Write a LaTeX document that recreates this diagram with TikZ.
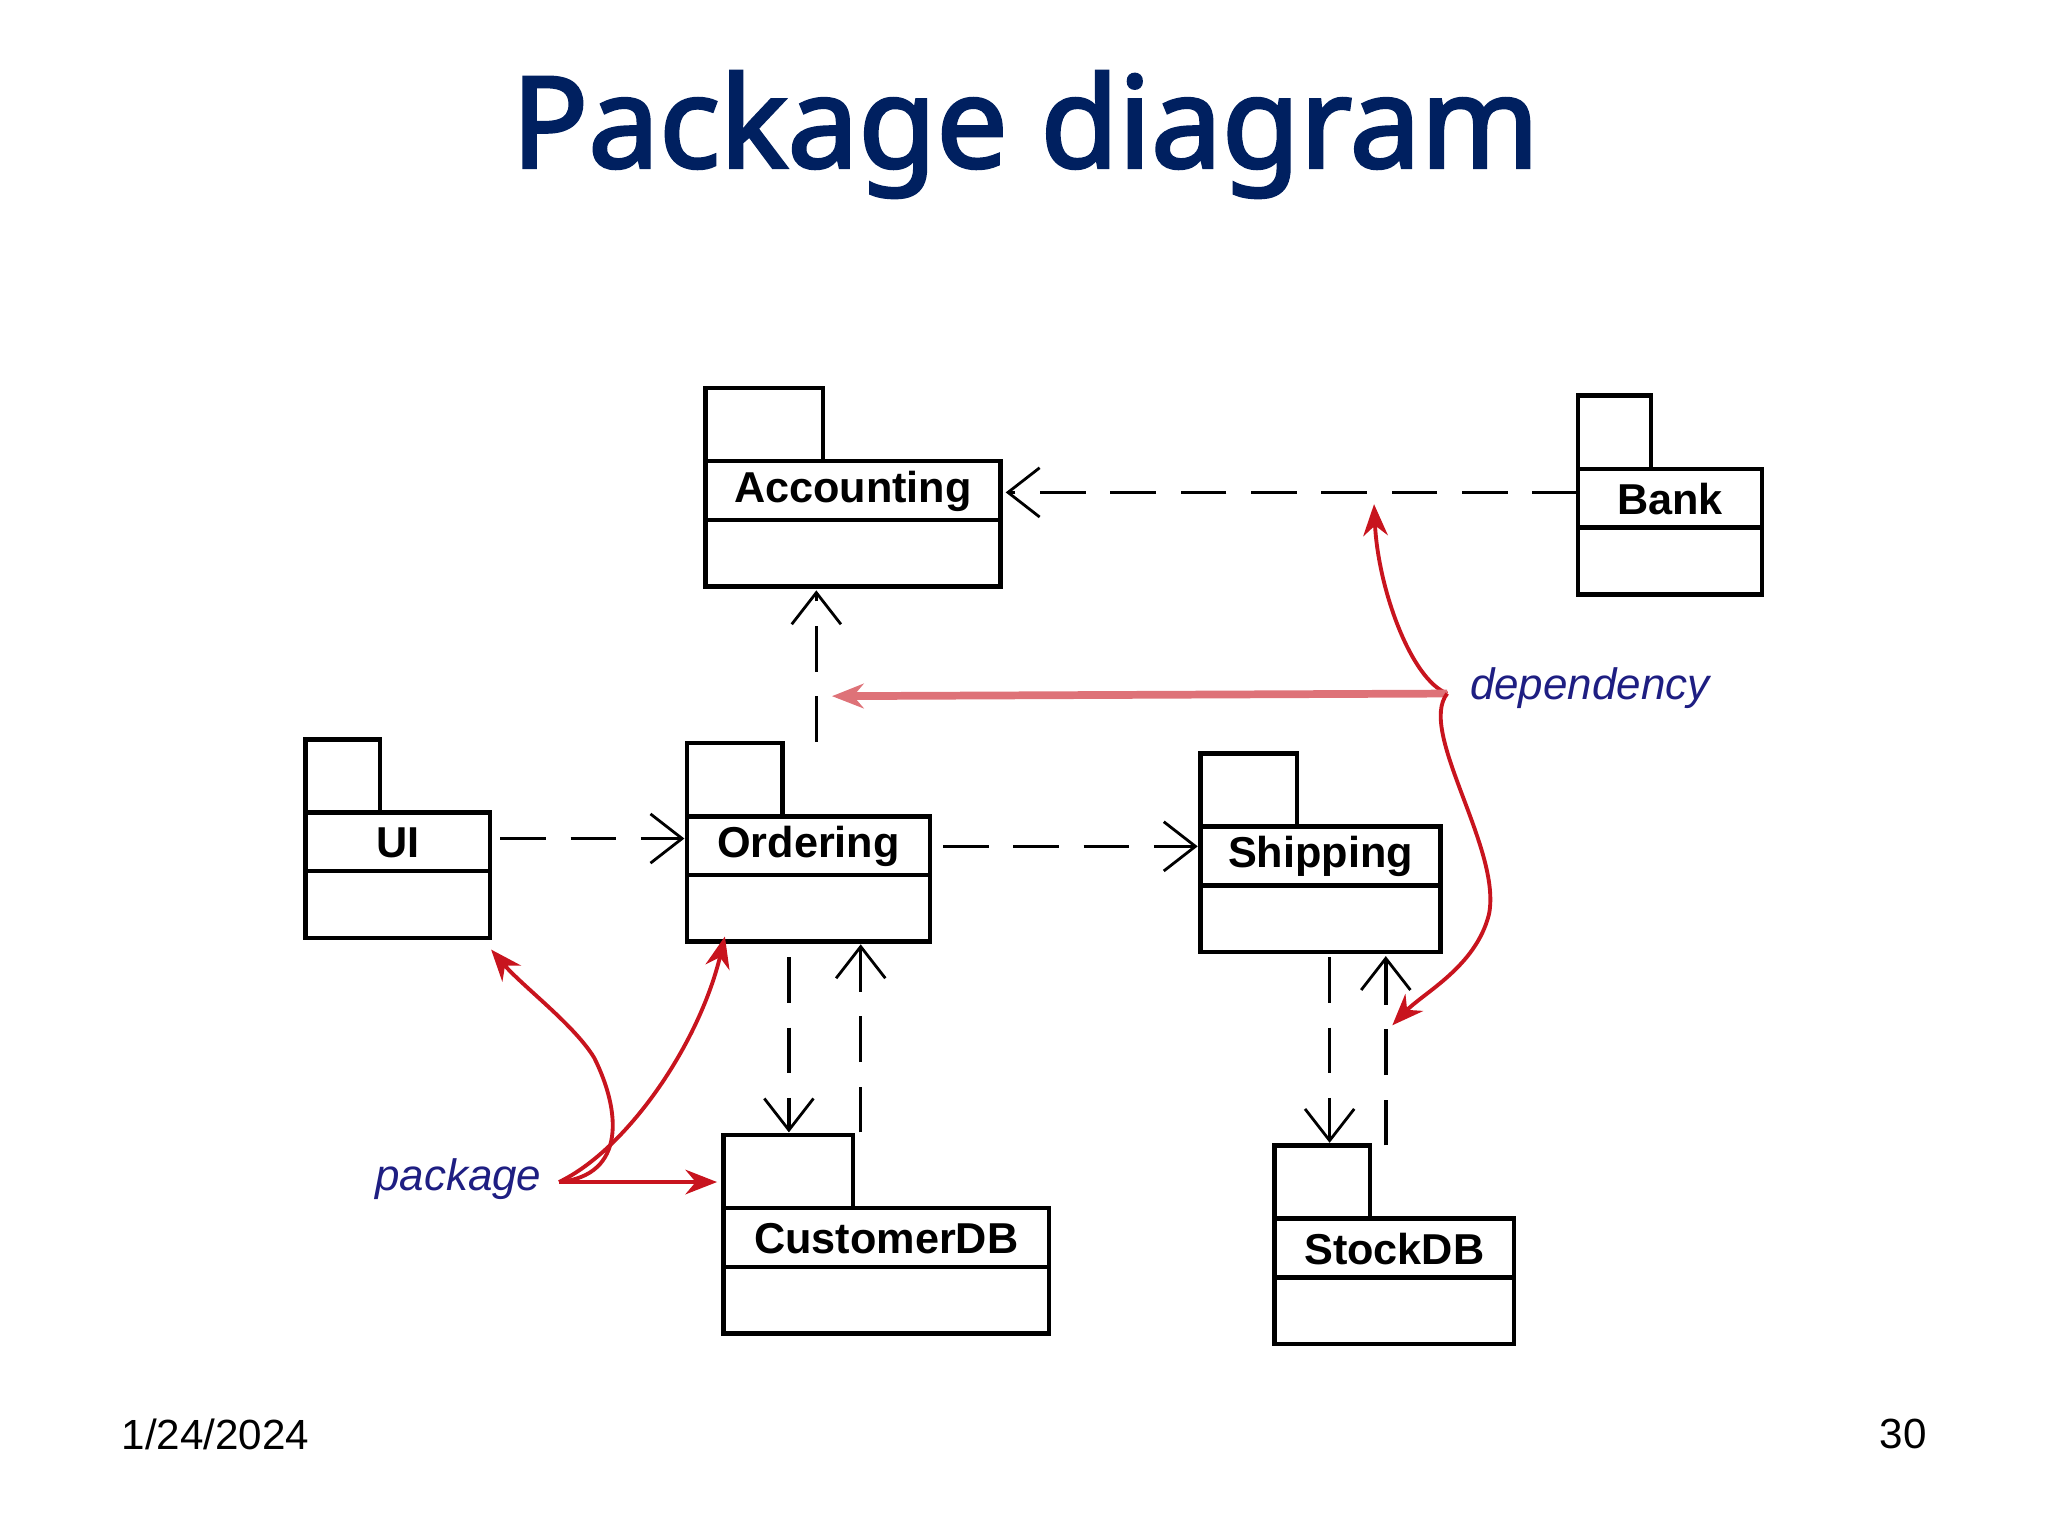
\documentclass[tikz,border=0pt]{standalone}
\usepackage{fontspec}
\setmainfont{Liberation Sans}
\newfontfamily\titlefont{Noto Sans}[FakeBold=2.5]
\usetikzlibrary{arrows.meta}
\definecolor{titleblue}{RGB}{0,32,96}
\definecolor{notered}{RGB}{200,20,30}
\definecolor{noteblue}{RGB}{30,30,130}
% one package symbol: id, left x, right x, tab right x, tab top y, label
\newcommand\pkg[6]{%
  \draw[pkgline] (#2,#5) rectangle (#4,{#5+56});
  \draw[pkgline] (#2,{#5+56}) rectangle (#3,{#5+101});
  \draw[pkgline] (#2,{#5+101}) rectangle (#3,{#5+152});
  \node[pkgname] (#1) at ({(#2+#3)/2},{#5+79}) {#6};
}
\begin{document}
\begin{tikzpicture}[x=0.01306cm,y=-0.01306cm,
  pkgline/.style={line width=1.3pt},
  pkgname/.style={font=\bfseries\fontsize{12.3}{15}\selectfont},
  dep/.style={line width=1pt,dash pattern=on 13pt off 7pt,
    -{Straight Barb[length=9pt,width=14pt,line width=0.8pt]}},
  note/.style={notered,line width=1.1pt,-{Stealth[length=9pt,width=7pt]}},
  label/.style={noteblue,font=\itshape\fontsize{12.5}{15}\selectfont}]
\useasboundingbox (0,0) rectangle (1568,1176);
\node[font=\titlefont\fontsize{36}{42}\selectfont,text=titleblue] (title) at (785,103) {Package diagram};
\node[font=\fontsize{12}{14}\selectfont] (date) at (165,1098) {1/24/2024};
\node[font=\fontsize{12}{14}\selectfont] (page) at (1457,1098) {30};

\pkg{acc}{540}{766}{630}{297}{Accounting}
\pkg{bank}{1208}{1349}{1264}{303}{Bank}
\pkg{ui}{234}{375}{291}{566}{UI}
\pkg{ord}{526}{712}{599}{569}{Ordering}
\pkg{ship}{919}{1103}{993}{577}{Shipping}
\pkg{cdb}{554}{803}{653}{869}{CustomerDB}
\pkg{sdb}{976}{1159}{1049}{877}{StockDB}

% connector end points
\coordinate (bankW) at (1208,377);  \coordinate (accE) at (770,377);
\coordinate (ordN) at (625,568);    \coordinate (accS) at (625,452);
\coordinate (uiE) at (383,642);     \coordinate (ordW) at (524,642);
\coordinate (ordE) at (722,648);    \coordinate (shipW) at (917,648);
\coordinate (ordS1) at (604,733);   \coordinate (cdbN1) at (604,867);
\coordinate (cdbN2) at (659,867);   \coordinate (ordS2) at (659,723);
\coordinate (shipS1) at (1018,733); \coordinate (sdbN1) at (1018,875);
\coordinate (sdbN2) at (1061,877);  \coordinate (shipS2) at (1061,732);

\draw[dep] (bankW) -- (accE);
\draw[dep] (ordN) -- (accS);
\draw[dep] (uiE) -- (ordW);
\draw[dep] (ordE) -- (shipW);
\draw[dep] (ordS1) -- (cdbN1);
\draw[dep] (cdbN2) -- (ordS2);
\draw[dep] (shipS1) -- (sdbN1);
\draw[dep] (sdbN2) -- (shipS2);

% annotations
\node[label,anchor=west] (depl) at (1116,527) {dependency};
\coordinate (d0) at (1108,531);
\coordinate (dA) at (1052,386);
\coordinate (dB) at (637,533);
\coordinate (dC) at (1066,785);
\draw[note] (d0) .. controls (1080,520) and (1055,450) .. (dA);
\draw[note,notered!60,line width=2.2pt] (d0) -- (dB);
\draw[note] (d0) .. controls (1085,560) and (1150,650) .. (1140,700) .. controls (1130,740) and (1090,760) .. (dC);

\node[label,anchor=east] (pkgl) at (424,903) {package};
\coordinate (p0) at (428,905);
\coordinate (pA) at (376,727);
\coordinate (pB) at (555,717);
\coordinate (pC) at (549,905);
\draw[note] (p0) .. controls (480,900) and (475,850) .. (455,810) .. controls (440,785) and (400,755) .. (pA);
\draw[note] (p0) .. controls (480,880) and (535,800) .. (pB);
\draw[note] (p0) -- (pC);
\end{tikzpicture}
\end{document}
